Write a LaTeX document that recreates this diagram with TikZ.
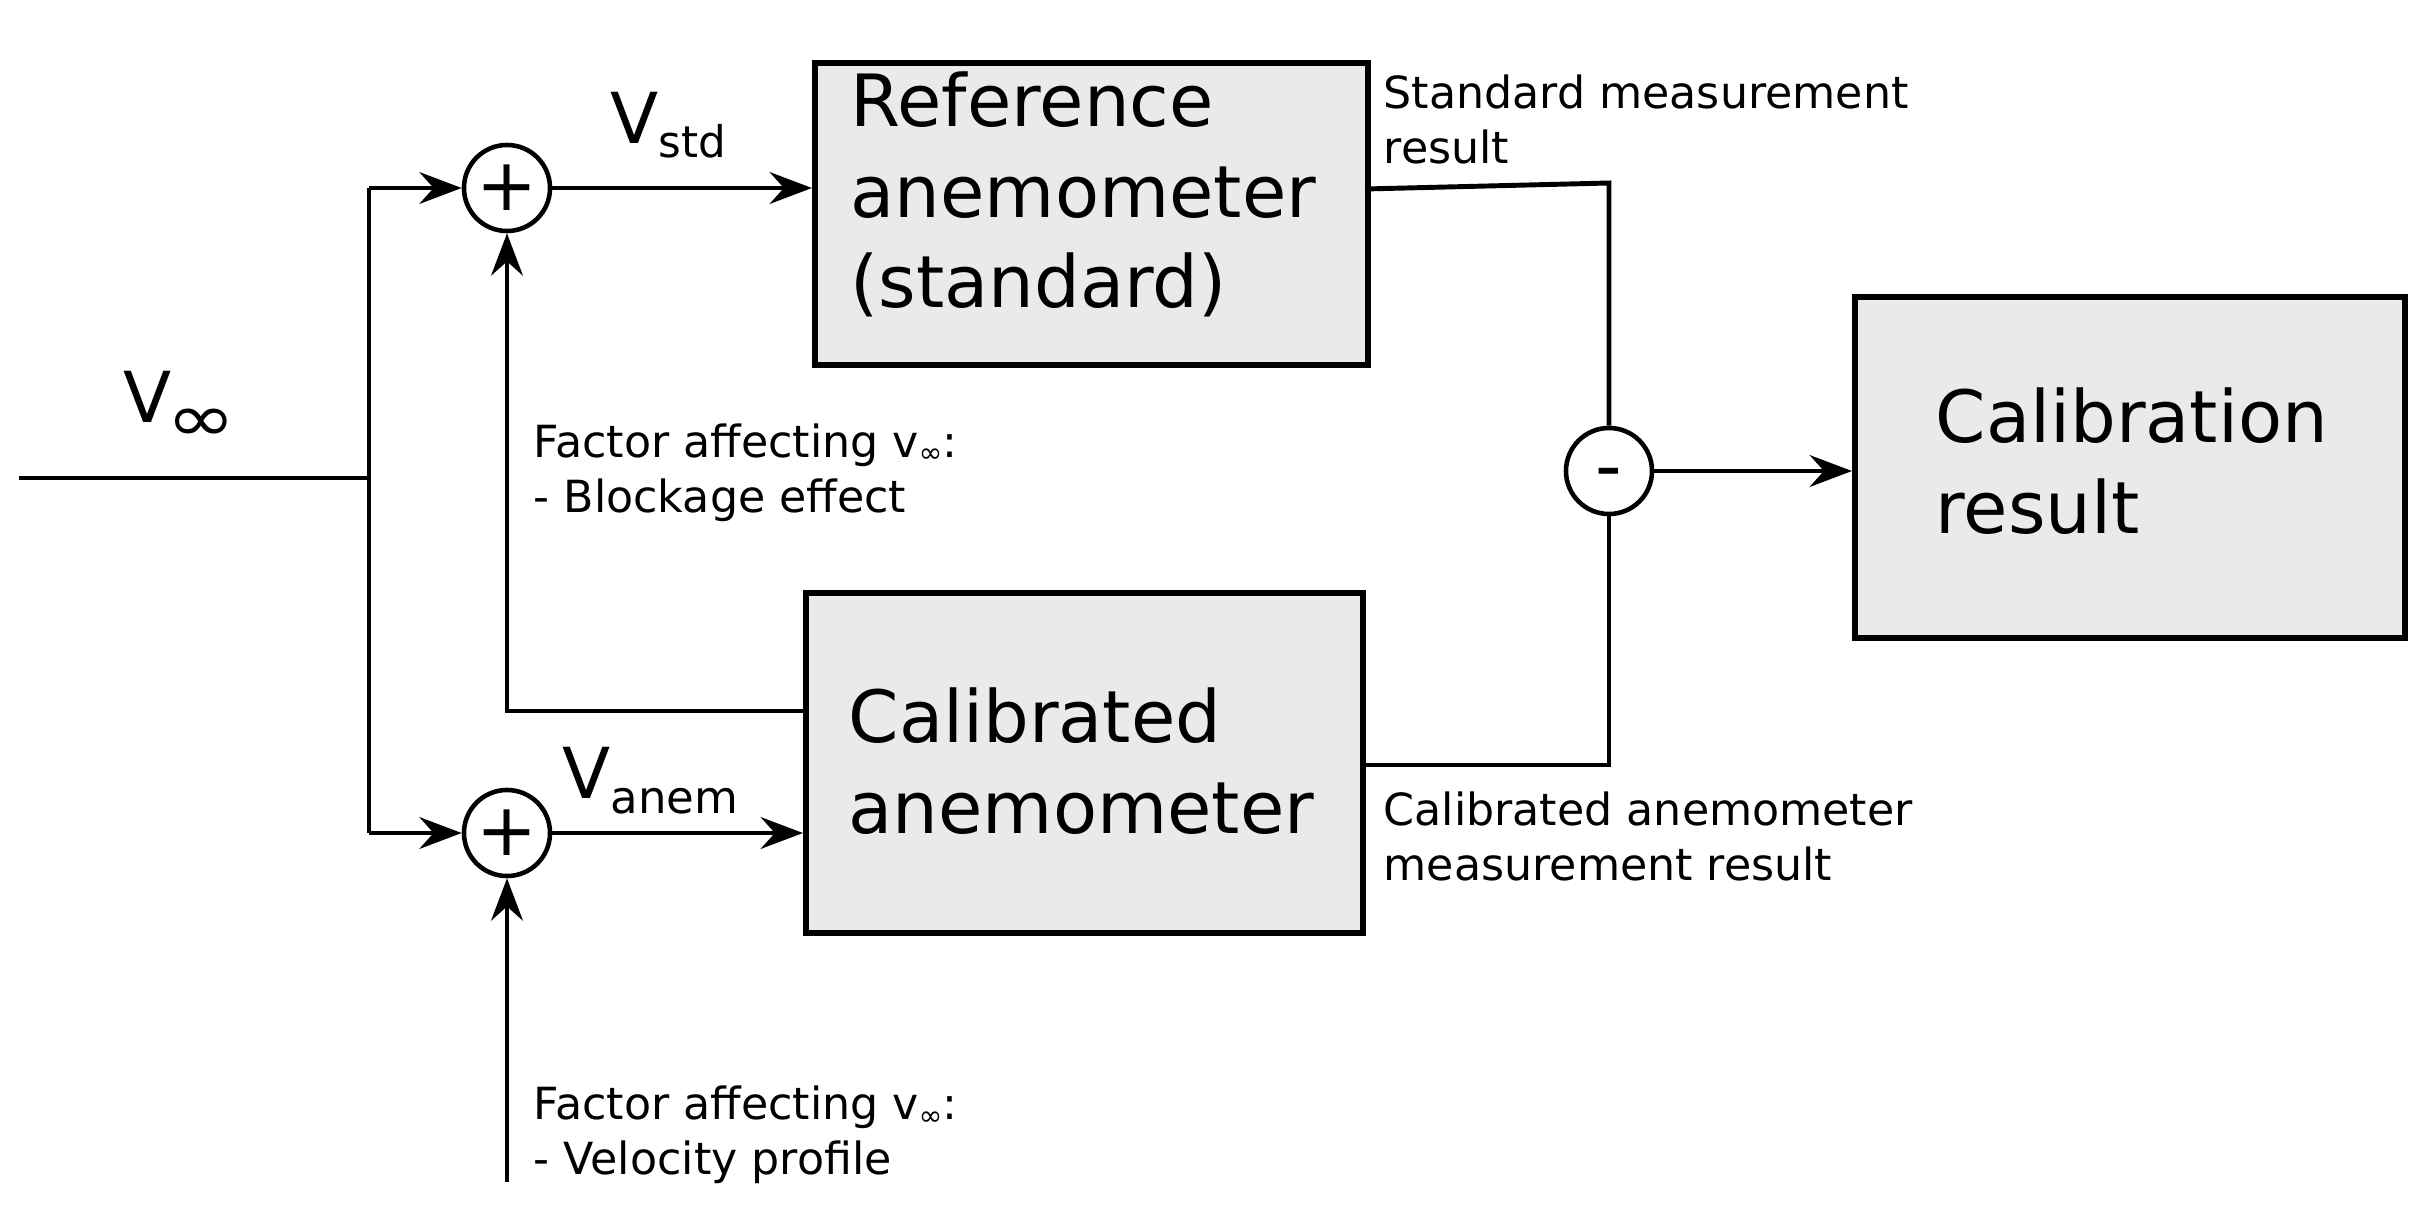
\documentclass[tikz,border=0pt]{standalone}
\usepackage{fontspec}
\setmainfont{DejaVu Sans}
\usepackage{graphicx}
\usetikzlibrary{arrows.meta,calc}
\definecolor{boxgray}{RGB}{234,234,234}
\begin{document}
\begin{tikzpicture}[x=0.01cm,y=-0.01cm,
  blk/.style={draw, line width=1.6pt, fill=boxgray, inner sep=0pt, anchor=north west},
  bigtxt/.style={font=\fontsize{20.5}{25.8}\selectfont, align=left, inner sep=0pt, anchor=north west},
  note/.style={font=\fontsize{12.6}{15.65}\selectfont, align=left, inner sep=0pt, anchor=north west},
  lbl/.style={font=\fontsize{20}{24}\selectfont, inner sep=0pt, anchor=base west},
  sumc/.style={draw, circle, line width=1.3pt, minimum size=0.86cm, inner sep=0pt, fill=white},
  wire/.style={line width=1.4pt},
  arr/.style={wire, -{Stealth[length=12pt,width=9pt,inset=4pt]}}
]
\useasboundingbox (0,0) rectangle (2427,1215);
\fill[white] (0,0) rectangle (2427,1215);

% boxes
\node[blk, minimum width=5.53cm, minimum height=3.02cm] (ref) at (812,60) {};
\node[bigtxt] (reft) at (850,71) {Reference\\anemometer\\(standard)};
\node[blk, minimum width=5.57cm, minimum height=3.40cm] (cal) at (803,590) {};
\node[bigtxt] (calt) at (848,687) {Calibrated\\anemometer};
\node[blk, minimum width=5.50cm, minimum height=3.41cm] (cres) at (1852,294) {};
\node[bigtxt] (crest) at (1935,387) {Calibration\\result};

% summing junctions
\node[sumc, font=\fontsize{20.7}{20.7}\selectfont] (s1) at (507,188) {+};
\node[sumc, font=\fontsize{20.7}{20.7}\selectfont] (s2) at (507,833) {+};
\node[sumc, font=\fontsize{21}{21}\selectfont] (m) at (1609,471) {\raisebox{-0.279em}[0.05em][0.05em]{-}};

% input and branch
\coordinate (in) at (19,478);
\coordinate (br) at (369,478);
\coordinate (brt) at (369,188);
\coordinate (brb) at (369,833);
\draw[wire] (in) -- (br);
\draw[wire] (brt) -- (brb);
\draw[arr] (brt) -- (s1.west);
\draw[arr] (brb) -- (s2.west);

% forward paths
\draw[arr] (s1.east) -- (s1.east -| ref.west);
\draw[arr] (s2.east) -- (s2.east -| cal.west);

% feedback (blockage)
\coordinate (fb) at (507,711);
\draw[arr] (cal.west |- fb) -- (fb) -- (s1.south);

% velocity profile input
\coordinate (vp) at (507,1182);
\draw[arr] (vp) -- (s2.south);

% outputs to difference
\coordinate (ro1) at (1365,189);
\coordinate (ro2) at (1609,183);
\draw[wire] (ro1) -- (ro2) -- (m.north);
\coordinate (co) at (1609,765);
\draw[wire] (cal.east |- co) -- (co) -- (m.south);
\draw[arr] (m.east) -- (m.east -| cres.west);

% labels
\node[lbl] (vinf) at (123,422) {V\kern-1.5pt\raisebox{-5.6pt}{\fontsize{19}{19}\selectfont\scalebox{1.25}[1]{∞}}};
\node[lbl] (vstd) at (610,143) {V\raisebox{-4pt}{\fontsize{12.4}{12.4}\selectfont std}};
\node[lbl] (vanem) at (562,798) {V\raisebox{-4.3pt}{\fontsize{12.8}{12.8}\selectfont anem}};

\node[note] (f1) at (533,423) {Factor affecting v\raisebox{-1.6pt}{\fontsize{8}{8}\selectfont ∞}:\\- Blockage effect};
\node[note] (f2) at (533,1085) {Factor affecting v\raisebox{-1.6pt}{\fontsize{8}{8}\selectfont ∞}:\\- Velocity profile};
\node[note] (smr) at (1383,74) {Standard measurement\\result};
\node[note] (cmr) at (1383,791) {Calibrated anemometer\\measurement result};
\end{tikzpicture}
\end{document}
